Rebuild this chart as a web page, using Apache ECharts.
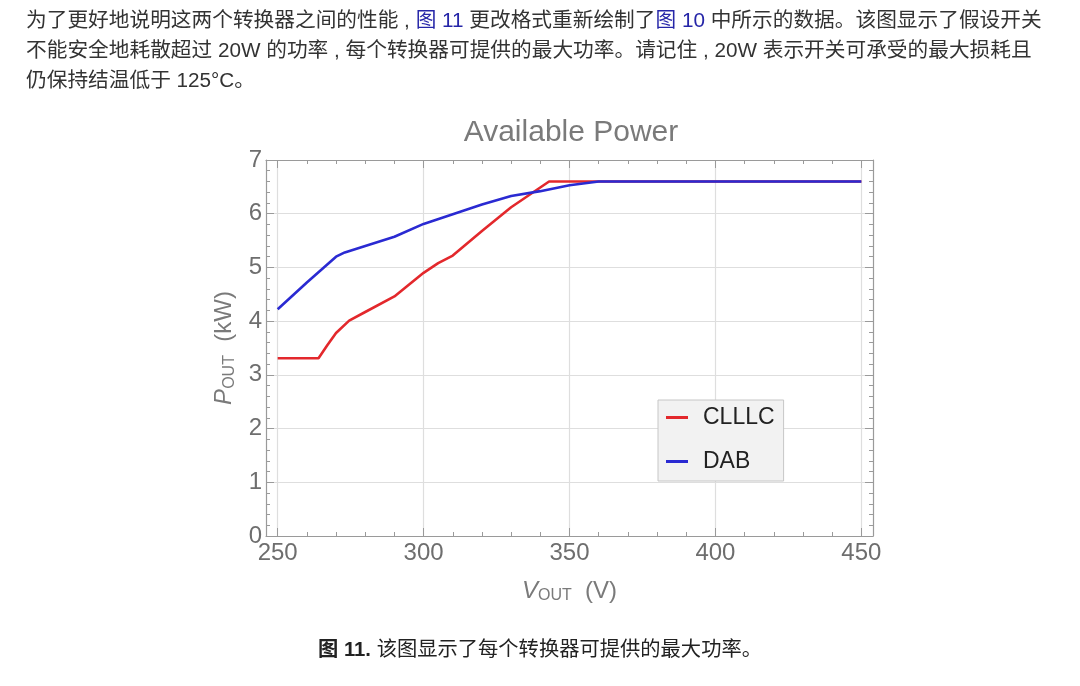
<!DOCTYPE html>
<html>
<head>
<meta charset="utf-8">
<script src="https://cdn.jsdelivr.net/npm/echarts@6/dist/echarts.min.js"></script>
<style>
  html, body { margin: 0; padding: 0; background: #fff; }
  #wrap { position: relative; width: 1080px; height: 686px; overflow: hidden; }
  #chart { position: absolute; left: 0; top: 0; width: 1080px; height: 686px; }
  .para { position: absolute; left: 26px; top: 5px; z-index: 2;
    font-family: "Liberation Sans", "Noto Sans CJK SC", sans-serif; font-size: 20.7px;
    color: #333; line-height: 30px; white-space: nowrap; }
  .para a { color: #2626a8; text-decoration: none; }
  .cap { position: absolute; left: 0; width: 1080px; top: 632px; z-index: 2; text-align: center;
    font-family: "Liberation Sans", "Noto Sans CJK SC", sans-serif; font-size: 20.3px; color: #222; }
  .cap b { font-weight: 700; }
</style>
</head>
<body>
<div id="wrap">
  <div id="chart"></div>
  <div class="para">
    <div>为了更好地说明这两个转换器之间的性能 , <a>图 11</a> 更改格式重新绘制了<a>图 10</a> 中所示的数据。该图显示了假设开关</div>
    <div>不能安全地耗散超过 20W 的功率 , 每个转换器可提供的最大功率。请记住 , 20W 表示开关可承受的最大损耗且</div>
    <div>仍保持结温低于 125°C。</div>
  </div>
  <div class="cap"><b>图 11.</b> 该图显示了每个转换器可提供的最大功率。</div>
</div>
<script>
  // 数据:输出电压 (V) 与可提供的最大功率 (kW)
  var clllcV = [250, 264, 267, 270, 274.5, 280, 290, 300, 305, 310, 320, 330, 343, 360, 450];
  var clllcP = [3.31, 3.31, 3.55, 3.78, 4.01, 4.17, 4.46, 4.90, 5.08, 5.22, 5.68, 6.12, 6.60, 6.60, 6.60];
  var dabV = [250, 260, 270, 273, 280, 290, 300, 310, 320, 330, 340, 350, 360, 450];
  var dabP = [4.22, 4.72, 5.20, 5.28, 5.40, 5.57, 5.81, 5.99, 6.17, 6.33, 6.42, 6.53, 6.60, 6.60];
  var seriesNames = ["CLLLC", "DAB"];

  // 坐标轴刻度
  var xMajor = [250, 300, 350, 400, 450];
  var xMinor = [260, 270, 280, 290, 310, 320, 330, 340, 360, 370, 380, 390, 410, 420, 430, 440];

  var C = { frame: "#9a9a9a", grid: "#dedede", label: "#6e6e6e", title: "#7a7a7a",
    red: "#e3282c", blue: "#2a2ad2" };
  var FONT = "Liberation Sans, Arial, sans-serif";

  function pairs(xs, ys) { return xs.map(function (x, i) { return [x, ys[i]]; }); }

  // 轴名:斜体变量 + 下标
  function axisName(v, unit) { return "{i|" + v + "}{s|OUT}{n|  (" + unit + ")}"; }
  var NAME_STYLE = { rich: {
    i: { fontSize: 24, fontStyle: "italic", color: C.title, fontFamily: FONT },
    s: { fontSize: 16, color: C.title, fontFamily: FONT, padding: [10, 0, 0, 0] },
    n: { fontSize: 24, color: C.title, fontFamily: FONT } } };

  // x 轴:主/次刻度分两根轴叠放,上下各一套(Mathematica 风格的边框刻度)
  function xAxis(pos, ticks, len, main) {
    return {
      type: "value", min: 246, max: 454, position: pos,
      axisLine: { show: main, lineStyle: { color: C.frame, width: 1.2 } },
      axisTick: { show: true, inside: true, length: len, customValues: ticks,
        lineStyle: { color: C.frame } },
      axisLabel: { show: main && pos === "bottom", customValues: ticks, color: C.label,
        fontSize: 24, fontFamily: FONT, margin: 5 },
      splitLine: { show: main && pos === "bottom", lineStyle: { color: C.grid, width: 1.2 } }
    };
  }

  function yAxis(pos) {
    var left = pos === "left";
    return {
      type: "value", min: 0, max: 7, interval: 1, position: pos,
      axisLine: { show: true, lineStyle: { color: C.frame, width: 1.2 } },
      axisTick: { show: true, inside: true, length: 8, lineStyle: { color: C.frame } },
      minorTick: { show: true, splitNumber: 5, length: 4, lineStyle: { color: C.frame } },
      axisLabel: { show: left, color: C.label, fontSize: 24, fontFamily: FONT, margin: 4 },
      splitLine: { show: left, lineStyle: { color: C.grid, width: 1.2 } },
      name: left ? axisName("P", "kW") : "",
      nameLocation: "middle", nameGap: 28, nameTextStyle: NAME_STYLE
    };
  }

  var xs = [xAxis("bottom", xMajor, 8, true), xAxis("bottom", xMinor, 4, false),
    xAxis("top", xMajor, 8, true), xAxis("top", xMinor, 4, false)];
  xs[0].name = axisName("V", "V");
  xs[0].nameLocation = "middle";
  xs[0].nameGap = 42;
  xs[0].nameTextStyle = NAME_STYLE;

  var chart = echarts.init(document.getElementById("chart"), null, { renderer: "canvas" });
  chart.setOption({
    backgroundColor: "#fff",
    animation: false,
    title: { text: "Available Power", left: 566, top: 113, textAlign: "center",
      textStyle: { color: C.title, fontSize: 30, fontWeight: "normal", fontFamily: FONT } },
    grid: { left: 266, right: 207, top: 160, bottom: 150, containLabel: false },
    legend: {
      orient: "vertical", left: 658, top: 400, icon: "rect", itemWidth: 22, itemHeight: 3,
      itemGap: 21, padding: [6, 9, 8, 8], backgroundColor: "#f2f2f2",
      borderColor: "#c6c6c6", borderWidth: 1,
      textStyle: { fontSize: 23, color: "#222", fontFamily: FONT, padding: [0, 0, 0, 10] },
      data: seriesNames
    },
    xAxis: xs,
    yAxis: [yAxis("left"), yAxis("right")],
    series: [
      { name: seriesNames[0], type: "line", xAxisIndex: 0, yAxisIndex: 0, showSymbol: false,
        data: pairs(clllcV, clllcP), color: C.red, lineStyle: { color: C.red, width: 2.6 } },
      { name: seriesNames[1], type: "line", xAxisIndex: 0, yAxisIndex: 0, showSymbol: false,
        data: pairs(dabV, dabP), color: C.blue, lineStyle: { color: C.blue, width: 2.6 } }
    ]
  });
</script>
</body>
</html>
